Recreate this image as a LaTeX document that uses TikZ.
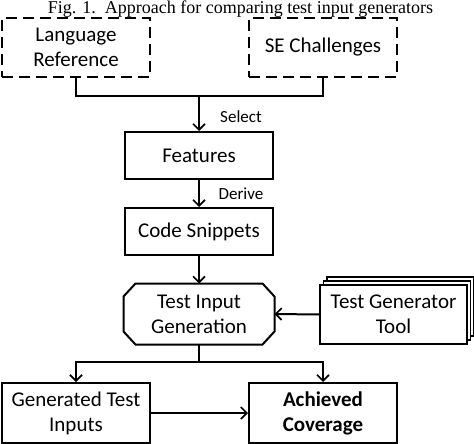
\documentclass[tikz,border=0pt]{standalone}
\usepackage{fontspec}
\setmainfont{Carlito}
\newfontfamily\capfont{Liberation Serif}
\usetikzlibrary{arrows.meta}
\tikzset{
  box/.style={draw, line width=2pt, minimum width=148pt, minimum height=47pt, inner sep=0pt, align=center, font=\fontsize{21}{25}\selectfont},
  tall/.style={minimum height=59pt},
  dbox/.style={box, tall, dash pattern=on 11pt off 6pt},
  conn/.style={line width=2pt},
  arr/.style={conn, -{Straight Barb[length=6pt,width=12pt,line width=1.7pt]}},
  lbl/.style={font=\fontsize{17}{20}\selectfont, inner sep=0pt}
}
\begin{document}
\begin{tikzpicture}[x=1pt,y=-1pt]
\useasboundingbox (0,0) rectangle (474,444);
\node[font=\capfont\fontsize{18}{20}\selectfont, anchor=base, inner sep=0pt] (cap) at (240.5,13.5) {Fig. 1.\ \ Approach for comparing test input generators};
\node[dbox] (lr) at (76,47.5) {Language\\Reference};
\node[dbox] (sec) at (323,47.5) {SE Challenges};
\node[box] (feat) at (199,155.5) {Features};
\node[box] (code) at (199,231.5) {Code Snippets};
\node[box, tall, draw=none, minimum width=149pt] (tig) at (199,314) {Test Input\\Generation};
\draw[line width=2pt] ([xshift=12pt]tig.north west) -- ([xshift=-12pt]tig.north east) -- ([yshift=-13pt]tig.north east) -- ([yshift=13pt]tig.south east) -- ([xshift=-12pt]tig.south east) -- ([xshift=12pt]tig.south west) -- ([yshift=13pt]tig.south west) -- ([yshift=-13pt]tig.north west) -- cycle;
\node[box, tall, minimum width=147pt, fill=white, line width=1.6pt] (tgb2) at (400.5,306.5) {};
\node[box, tall, minimum width=147pt, fill=white, line width=1.6pt] (tgb1) at (397,310.5) {};
\node[box, tall, minimum width=147pt, fill=white] (tgt) at (393.5,314.5) {Test Generator\\Tool};
\node[box, tall, minimum height=60pt] (gti) at (76,413) {Generated Test\\Inputs};
\node[box, tall, minimum height=60pt, font=\fontsize{21}{25}\selectfont\bfseries] (ac) at (323,413) {Achieved\\Coverage};
\coordinate (j1) at (199,96);
\draw[conn] (lr.south) |- (j1) -| (sec.south);
\draw[arr] (j1) -- (feat.north);
\node[lbl] (sel) at (241,117) {Select};
\draw[arr] (feat.south) -- (code.north);
\node[lbl] (der) at (241,194) {Derive};
\draw[arr] (code.south) -- (tig.north);
\draw[arr] (tgt.west) -- (tig.east);
\coordinate (j2) at (199,362);
\draw[conn] (tig.south) -- (j2);
\draw[arr] (j2) -| (gti.north);
\draw[arr] (j2) -| (ac.north);
\draw[arr] (gti.east) -- (ac.west);
\end{tikzpicture}
\end{document}
